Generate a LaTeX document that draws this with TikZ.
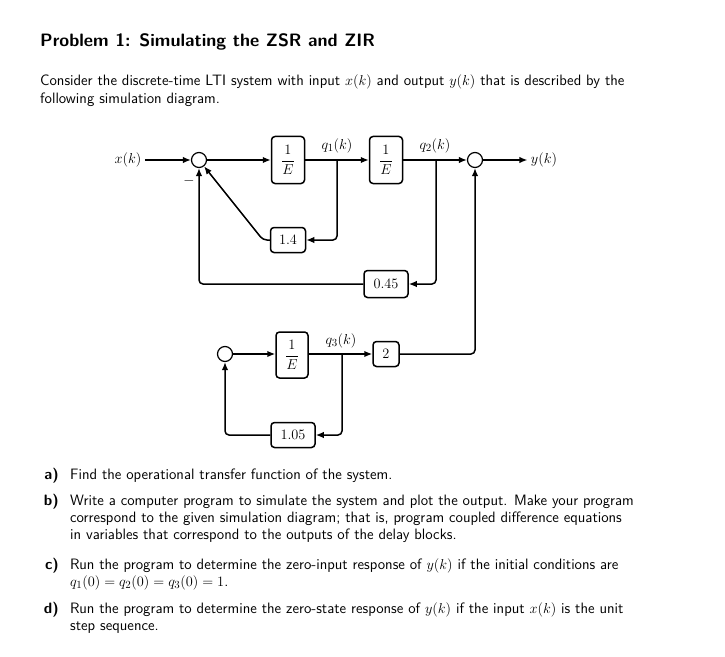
\documentclass[tikz,border=0pt]{standalone}
\usetikzlibrary{arrows.meta}
\newcommand{\oneE}{$\displaystyle\frac{1}{E}$}
\begin{document}
\begin{tikzpicture}[x=1bp,y=-1bp,
  txt/.style={anchor=base west,inner sep=0pt,font=\sffamily\fontsize{15.1}{17}\selectfont},
  lbl/.style={anchor=base east,inner sep=0pt,font=\sffamily\bfseries\fontsize{15.1}{17}\selectfont},
  dtext/.style={font=\fontsize{15}{17}\selectfont},
  blk/.style={draw,rounded corners=3.5bp,line width=1.5bp,inner sep=0pt,font=\fontsize{15}{17}\selectfont},
  sumc/.style={draw,circle,minimum size=15bp,inner sep=0pt,line width=1.2bp},
  conn/.style={line width=1.5bp,rounded corners=4bp,-{Latex[length=8bp,width=6.5bp]}}]
\useasboundingbox (0,0) rectangle (725,657);
% title and intro
\node[anchor=base west,inner sep=0pt,font=\sffamily\bfseries\fontsize{18}{21}\selectfont] (title) at (40,47) {Problem 1: Simulating the ZSR and ZIR};
\node[txt] (p1) at (40,86) {Consider the discrete-time LTI system with input $x(k)$ and output $y(k)$ that is described by the};
\node[txt] (p2) at (40,104) {following simulation diagram.};
% diagram upper part
\node[dtext] (xk) at (128,160) {$x(k)$};
\node[sumc] (s1) at (199,160) {};
\node[blk,minimum width=33bp,minimum height=47bp] (d1) at (288,160) {\oneE};
\node[blk,minimum width=33bp,minimum height=47bp] (d2) at (386,160) {\oneE};
\node[sumc] (s2) at (475,160) {};
\node[dtext] (yk) at (544,160) {$y(k)$};
\node[blk,minimum width=35bp,minimum height=25bp] (g14) at (288,240) {$1.4$};
\node[blk,minimum width=44bp,minimum height=27bp] (g045) at (386,284) {$0.45$};
\node[dtext] (minus) at (189,181) {$-$};
\coordinate (b1) at (337,160);
\coordinate (b2) at (436,160);
\coordinate (c14) at (263,240);
\node[dtext] (q1) at (337,146) {$q_1(k)$};
\node[dtext] (q2) at (435,146) {$q_2(k)$};
\draw[conn] (xk) -- (s1);
\draw[conn] (s1) -- (d1);
\draw[conn] (d1) -- (d2);
\draw[conn] (d2) -- (s2);
\draw[conn] (s2) -- (yk);
\draw[conn] (b1) |- (g14.east);
\draw[conn] (g14.west) -- (c14) -- (s1);
\draw[conn] (b2) |- (g045.east);
\draw[conn] (g045.west) -| (s1.south);
% diagram lower part
\node[sumc] (s3) at (225,354) {};
\node[blk,minimum width=32bp,minimum height=46bp] (d3) at (292,355) {\oneE};
\node[blk,minimum width=26bp,minimum height=25bp] (g2) at (386,354) {$2$};
\node[blk,minimum width=44bp,minimum height=25bp] (g105) at (293,435) {$1.05$};
\coordinate (b3) at (342,354);
\node[dtext] (q3) at (341,341) {$q_3(k)$};
\draw[conn] (s3) -- (d3.west |- s3);
\draw[conn] (d3.east |- s3) -- (g2);
\draw[conn] (g2.east) -| (s2.south);
\draw[conn] (b3) |- (g105.east);
\draw[conn] (g105.west) -| (s3.south);
% questions
\node[lbl] (la) at (59,479) {a)};
\node[txt] (ta) at (70,479) {Find the operational transfer function of the system.};
\node[lbl] (lb) at (59,505) {b)};
\node[txt] (tb1) at (70,505) {Write a computer program to simulate the system and plot the output. Make your program};
\node[txt] (tb2) at (70,522) {correspond to the given simulation diagram; that is, program coupled difference equations};
\node[txt] (tb3) at (70,539) {in variables that correspond to the outputs of the delay blocks.};
\node[lbl] (lc) at (59,569) {c)};
\node[txt] (tc1) at (70,569) {Run the program to determine the zero-input response of $y(k)$ if the initial conditions are};
\node[txt] (tc2) at (70,586) {$q_1(0)=q_2(0)=q_3(0)=1$.};
\node[lbl] (ld) at (59,613) {d)};
\node[txt] (td1) at (70,613) {Run the program to determine the zero-state response of $y(k)$ if the input $x(k)$ is the unit};
\node[txt] (td2) at (70,630) {step sequence.};
\end{tikzpicture}
\end{document}
